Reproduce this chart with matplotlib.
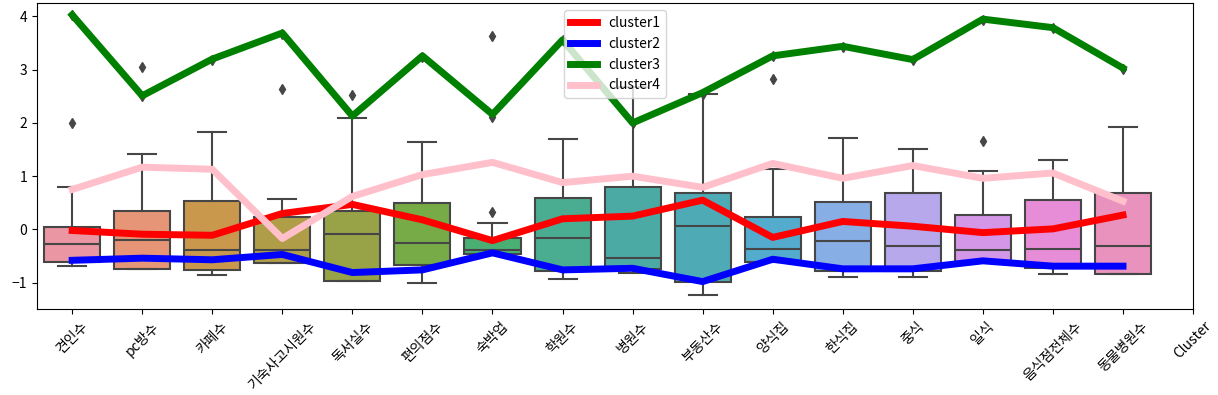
import matplotlib
matplotlib.use("Agg")
import matplotlib.pyplot as plt
import seaborn as sns
import numpy as np
import colorsys

plt.rcParams['font.family'] = ['Noto Sans CJK KR', 'DejaVu Sans']

categories = ['견인수', 'pc방수', '카페수', '기숙사고시원수', '독서실수', '편의점수', '숙박업', '학원수',
              '병원수', '부동산수', '양식집', '한식집', '중식', '일식', '음식점전체수', '동물병원수']
extra_tick = 'Cluster'

# box statistics per category
q1 =      [-0.61, -0.74, -0.76, -0.63, -0.97, -0.66, -0.46, -0.79, -0.74, -0.99, -0.62, -0.78, -0.78, -0.62, -0.73, -0.84]
med =     [-0.27, -0.19, -0.39, -0.39, -0.08, -0.25, -0.39, -0.16, -0.53,  0.06, -0.37, -0.21, -0.31, -0.39, -0.36, -0.31]
q3 =      [ 0.05,  0.35,  0.54,  0.24,  0.35,  0.49, -0.16,  0.59,  0.79,  0.69,  0.23,  0.51,  0.68,  0.28,  0.56,  0.68]
whislo =  [-0.68, -0.74, -0.85, -0.63, -0.97, -1.01, -0.46, -0.94, -0.81, -1.23, -0.62, -0.89, -0.89, -0.62, -0.83, -0.84]
whishi =  [ 0.80,  1.42,  1.83,  0.57,  2.10,  1.65,  0.12,  1.69,  2.67,  2.55,  1.13,  1.71,  1.52,  1.10,  1.31,  1.93]
fliers = [[2.0, 4.02], [3.05, 2.5], [3.18], [2.63, 3.67], [2.53], [3.23], [0.33, 2.12, 3.63], [3.55],
          [2.0], [2.55], [2.82, 3.25], [3.42], [3.18], [1.67, 3.93], [3.78], [3.02]]

cluster1 = [-0.02, -0.09, -0.11, 0.30, 0.47, 0.18, -0.21, 0.20, 0.25, 0.55, -0.15, 0.15, 0.06, -0.06, 0.01, 0.27]
cluster2 = [-0.58, -0.54, -0.57, -0.47, -0.81, -0.76, -0.44, -0.76, -0.73, -0.98, -0.56, -0.74, -0.74, -0.59, -0.69, -0.69]
cluster3 = [4.03, 2.51, 3.20, 3.69, 2.13, 3.26, 2.16, 3.56, 2.00, 2.57, 3.26, 3.44, 3.19, 3.95, 3.79, 3.03]
cluster4 = [0.75, 1.17, 1.13, -0.17, 0.62, 1.03, 1.26, 0.88, 1.00, 0.79, 1.24, 0.96, 1.20, 0.96, 1.06, 0.53]
cluster_names = ['cluster1', 'cluster2', 'cluster3', 'cluster4']
cluster_colors = ['red', 'blue', 'green', 'pink']

fig = plt.figure(figsize=(12.18, 3.95), dpi=100)
ax = fig.add_axes([0.0305, 0.217, 0.949, 0.775])

n = len(categories)
pal = sns.husl_palette(n, l=.7)
pal = [sns.desaturate(c, 0.75) for c in pal]
light_vals = [colorsys.rgb_to_hls(*c[:3])[1] for c in pal]
lum = min(light_vals) * .6
gray = (lum, lum, lum)

stats = []
for i in range(n):
    stats.append(dict(med=med[i], q1=q1[i], q3=q3[i], whislo=whislo[i], whishi=whishi[i], fliers=fliers[i]))

bp = ax.bxp(stats, positions=list(range(n)), widths=0.8, patch_artist=True, manage_ticks=False,
            boxprops=dict(edgecolor=gray, linewidth=1.5),
            medianprops=dict(color=gray, linewidth=1.5),
            whiskerprops=dict(color=gray, linewidth=1.5),
            capprops=dict(color=gray, linewidth=1.5),
            flierprops=dict(marker='d', markersize=5, markerfacecolor=gray, markeredgecolor=gray))
for patch, c in zip(bp['boxes'], pal):
    patch.set_facecolor(c)

xs = list(range(n))
for vals, name, col in zip([cluster1, cluster2, cluster3, cluster4], cluster_names, cluster_colors):
    ax.plot(xs, vals, color=col, linewidth=5, label=name, zorder=5)

ax.set_xlim(-0.5, n)
ax.set_ylim(-1.5, 4.25)
ax.set_xticks(list(range(n + 1)))
ax.set_xticklabels(categories + [extra_tick], rotation=45, fontsize=10)
ax.set_yticks([-1, 0, 1, 2, 3, 4])
ax.tick_params(axis='y', labelsize=10)
ax.legend(loc='upper center', fontsize=10)

fig.savefig('out.png', dpi=100)
